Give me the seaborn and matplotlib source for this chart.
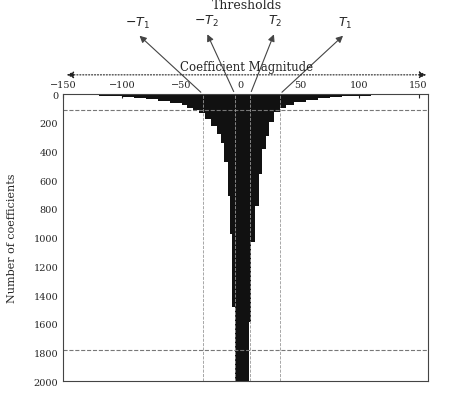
import matplotlib
matplotlib.use("Agg")
import matplotlib.pyplot as plt
import seaborn as sns
import numpy as np

edges = [-150,-140,-130,-120,-110,-100,-90,-80,-70,-60,-50,-45,-40,-35,-30,-25,-20,-17,-14,-11,-9,-7,-5,
         7,9,12,15,18,21,24,28,33,38,45,55,65,75,85,95,110,125,140,158]
counts = [0,5,8,12,15,20,25,35,45,60,75,95,110,135,170,220,280,340,470,710,975,1480,2000,
          1590,1030,780,560,380,290,195,125,95,75,55,40,30,22,16,12,8,5,0]
thresholds = [-32, -5, 8, 33]
threshold_labels = [r"$-T_1$", r"$-T_2$", r"$T_2$", r"$T_1$"]
label_pos = [(0.29, 0.915), (0.435, 0.92), (0.58, 0.92), (0.728, 0.915)]
hlines = [110, 1780]
xticks = [-150, -100, -50, 0, 50, 100, 150]
yticks = [0, 200, 400, 600, 800, 1000, 1200, 1400, 1600, 1800, 2000]

sns.set_style("white")
plt.rcParams['font.family'] = ['DejaVu Serif']
fig = plt.figure(figsize=(4.74, 4.10), dpi=100)
ax = fig.add_axes([0.133, 0.068, 0.77, 0.70])
centers = [(a + b) / 2 for a, b in zip(edges[:-1], edges[1:])]
sns.histplot(x=centers, weights=counts, bins=edges, color="#111111", alpha=1,
             edgecolor="none", linewidth=0, ax=ax)
ax.set_xlim(-150, 158)
ax.set_ylim(2000, 0)
ax.xaxis.tick_top()
ax.set_xticks(xticks)
ax.set_yticks(yticks)
ax.tick_params(labelsize=7, length=3, direction="in")
ax.set_xlabel("")
ax.set_ylabel("Number of coefficients", fontsize=8, labelpad=12)
for s in ax.spines.values():
    s.set_color("#444444")
for h in hlines:
    ax.axhline(h, color="#777777", ls="--", lw=0.8)
for t in thresholds:
    ax.axvline(t, color="#999999", ls="--", lw=0.6)
for t, lab, (fx, fy) in zip(thresholds, threshold_labels, label_pos):
    ax.annotate("", xy=(fx, fy), xycoords="figure fraction", xytext=(t, 0),
                textcoords="data", annotation_clip=False,
                arrowprops=dict(arrowstyle="-|>", color="#444444", lw=0.8))
    fig.text(fx, fy + 0.01, lab, ha="center", va="bottom", fontsize=9)
fig.text(0.52, 0.97, "Thresholds", ha="center", va="bottom", fontsize=9)
ax.annotate("", xy=(0.905, 0.815), xytext=(0.135, 0.815), xycoords="figure fraction",
            arrowprops=dict(arrowstyle="<|-|>", color="#222222", lw=0.8, ls=":"))
fig.text(0.52, 0.82, "Coefficient Magnitude", ha="center", va="bottom", fontsize=8.5)
fig.savefig("out.png", dpi=100)
